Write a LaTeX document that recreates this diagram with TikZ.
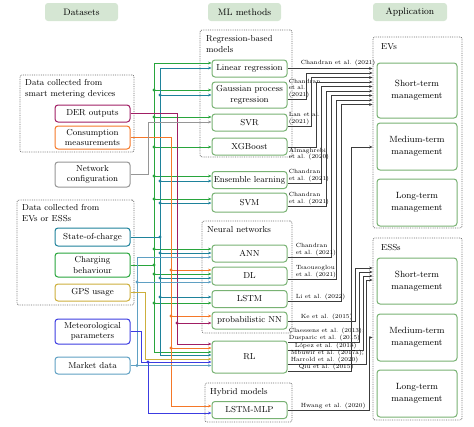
\documentclass[tikz,border=0pt]{standalone}
\usepackage{fontspec}
\usetikzlibrary{arrows.meta}
\definecolor{hdrfill}{RGB}{213,230,211}
\definecolor{boxgreen}{RGB}{120,178,115}
\definecolor{grpgray}{RGB}{110,110,110}
\definecolor{cM}{RGB}{160,30,100}
\definecolor{cO}{RGB}{245,120,40}
\definecolor{cGy}{RGB}{150,150,150}
\definecolor{cT}{RGB}{30,130,155}
\definecolor{cG}{RGB}{40,165,60}
\definecolor{cY}{RGB}{205,175,60}
\definecolor{cB}{RGB}{60,60,225}
\definecolor{cL}{RGB}{95,160,195}
\definecolor{outc}{RGB}{60,60,60}
\tikzset{
 hdr/.style={fill=hdrfill, rounded corners=3pt, minimum height=18pt, inner sep=0pt, font=\fontsize{9.3}{11}\selectfont},
 grp/.style={draw=grpgray, densely dotted, line width=0.8pt, rounded corners=2pt, inner sep=0pt},
 gtitle/.style={anchor=north west, align=left, inner sep=0pt, font=\fontsize{8.7}{11}\selectfont},
 mbox/.style={draw=boxgreen, fill=white, line width=1pt, rounded corners=3pt, minimum width=75pt, inner sep=0pt, align=center, font=\fontsize{8.7}{10.5}\selectfont},
 dbox/.style={mbox, draw=#1},
 abox/.style={mbox, minimum width=80pt, font=\fontsize{9}{12}\selectfont},
 cite/.style={anchor=south west, align=left, inner sep=0.6pt, font=\fontsize{6}{6.3}\selectfont},
 citeb/.style={cite, anchor=north west},
 inarr/.style={line width=0.85pt, draw=#1, -{Stealth[length=3.5pt,width=2.8pt]}},
 bus/.style={line width=0.85pt, draw=#1},
 outarr/.style={line width=0.85pt, draw=outc, -{Stealth[length=3.5pt,width=2.8pt]}},
}
\begin{document}
\begin{tikzpicture}[x=1pt,y=-1pt]
\useasboundingbox (0,0) rectangle (474,426);
% headers
\node[hdr, minimum width=73pt] (hds) at (81.5,12) {Datasets};
\node[hdr, minimum width=73pt] (hml) at (244.5,12) {ML methods};
\node[hdr, minimum width=74pt] (hap) at (410,12) {Application};
% datasets
\node[grp, minimum width=114pt, minimum height=77pt] (gsm) at (77,113.5) {};
\node[gtitle] (tsm) at (25,79) {Data collected from\\smart metering devices};
\node[dbox=cM, minimum height=17pt] (der) at (92.5,113.5) {DER outputs};
\node[dbox=cO, minimum height=23pt] (cons) at (92.5,137.5) {Consumption\\measurements};
\node[dbox=cGy, minimum height=25pt] (net) at (92.5,174.5) {Network\\configuration};
\node[grp, minimum width=117pt, minimum height=105pt] (gev) at (75.5,252.5) {};
\node[gtitle] (tev) at (22,204) {Data collected from\\EVs or ESSs};
\node[dbox=cT, minimum height=18pt] (soc) at (92.5,237) {State-of-charge};
\node[dbox=cG, minimum height=24pt] (cb) at (92.5,265) {Charging\\behaviour};
\node[dbox=cY, minimum height=17pt] (gps) at (92.5,292.5) {GPS usage};
\node[dbox=cB, minimum height=25pt] (met) at (92.5,331.5) {Meteorological\\parameters};
\node[dbox=cL, minimum height=17pt] (mkt) at (92.5,365.5) {Market data};
% methods
\node[grp, minimum width=92pt, minimum height=127pt] (greg) at (246,93.5) {};
\node[gtitle] (treg) at (206,35) {Regression-based\\models};
\node[mbox, minimum height=17pt] (lr) at (249.5,68.5) {Linear regression};
\node[mbox, minimum height=26pt] (gpr) at (249.5,95) {Gaussian process\\regression};
\node[mbox, minimum height=17pt] (svr) at (249.5,122.5) {SVR};
\node[mbox, minimum height=17pt] (xgb) at (249.5,146.5) {XGBoost};
\node[mbox, minimum height=17pt] (ens) at (249.5,180) {Ensemble learning};
\node[mbox, minimum height=19pt] (svm) at (249.5,202.5) {SVM};
\node[grp, minimum width=90pt, minimum height=112pt] (gnn) at (247,277) {};
\node[gtitle] (tnn) at (207,226) {Neural networks};
\node[mbox, minimum height=17pt] (ann) at (249.5,253.5) {ANN};
\node[mbox, minimum height=18pt] (dl) at (249.5,276) {DL};
\node[mbox, minimum height=17pt] (lstm) at (249.5,299) {LSTM};
\node[mbox, minimum height=17pt] (pnn) at (249.5,320.5) {probabilistic NN};
\node[mbox, minimum height=32pt] (rl) at (249.5,357) {RL};
\node[grp, minimum width=87pt, minimum height=39pt] (ghy) at (248.5,402.5) {};
\node[gtitle] (thy) at (210,388) {Hybrid models};
\node[mbox, minimum height=17pt] (mlp) at (249.5,410) {LSTM-MLP};
% applications
\node[grp, minimum width=89pt, minimum height=191pt] (gevs) at (417.5,132.5) {};
\node[gtitle] (tevs) at (381,43) {EVs};
\node[abox, minimum height=55pt] (evs) at (417,90.5) {Short-term\\management};
\node[abox, minimum height=47pt] (evm) at (417,146.5) {Medium-term\\management};
\node[abox, minimum height=47pt] (evl) at (417,202.5) {Long-term\\management};
\node[grp, minimum width=89pt, minimum height=182pt] (gess) at (417.5,329) {};
\node[gtitle] (tess) at (381,244) {ESSs};
\node[abox, minimum height=46pt] (ess) at (417,281) {Short-term\\management};
\node[abox, minimum height=47pt] (esm) at (417,337.5) {Medium-term\\management};
\node[abox, minimum height=47pt] (esl) at (417,393.5) {Long-term\\management};

% ---- dataset -> method connectors ----
% charging behaviour (green bus)
\draw[bus=cG] (cb.east) -- (cb.east -| 154,0);
\fill[cG] (cb.east -| 154,0) circle (1.7pt);
\draw[inarr=cG] (154,352) -- (154,63) -- (lr.west |- 0,63);
\draw[inarr=cG] (154,352) -- (rl.west |- 0,352);
\foreach \y/\n in {90/gpr,117/svr,147/xgb,176/ens,199/svm,249/ann,274/dl,303/lstm}{
  \draw[inarr=cG] (154,\y) -- (\n.west |- 0,\y);
  \fill[cG] (154,\y) circle (1.7pt);}
% state-of-charge (teal bus)
\draw[bus=cT] (soc.east) -- (soc.east -| 160,0);
\fill[cT] (soc.east -| 160,0) circle (1.7pt);
\draw[inarr=cT] (160,355) -- (160,68) -- (lr.west |- 0,68);
\draw[inarr=cT] (160,355) -- (rl.west |- 0,355);
\foreach \y/\n in {95/gpr,181/ens,203/svm,253/ann,278/dl,297/lstm}{
  \draw[inarr=cT] (160,\y) -- (\n.west |- 0,\y);
  \fill[cT] (160,\y) circle (1.7pt);}
% consumption (orange)
\draw[inarr=cO] (cons.east) -- (cons.east -| 171,0) -- (171,406) -- (mlp.west |- 0,406);
\foreach \y/\n in {270/dl,316/pnn,348/rl}{
  \draw[inarr=cO] (171,\y) -- (\n.west |- 0,\y);
  \fill[cO] (171,\y) circle (1.7pt);}
% DER outputs (magenta)
\draw[inarr=cM] (der.east) -- (der.east -| 177,0) -- (177,344) -- (rl.west |- 0,344);
\draw[inarr=cM] (177,323) -- (pnn.west |- 0,323);
\fill[cM] (177,323) circle (1.7pt);
% network configuration (gray)
\draw[inarr=cGy] (net.east) -- (net.east -| 148,0) -- (148,122) -- (svr.west |- 0,122);
% market data (light blue)
\draw[inarr=cL] (mkt.east) -- (rl.west |- 0,365.5);
\fill[cL] (137,365.5) circle (1.7pt);
\draw[inarr=cL] (137,365.5) -- (137,257) -- (ann.west |- 0,257);
\draw[inarr=cL] (137,282) -- (dl.west |- 0,282);
\fill[cL] (137,282) circle (1.7pt);
% GPS usage (yellow)
\draw[inarr=cY] (gps.east) -- (gps.east -| 145,0) -- (145,359) -- (rl.west |- 0,359);
% meteorological (blue)
\draw[inarr=cB] (met.east) -- (met.east -| 141,0) -- (141,362) -- (rl.west |- 0,362);
\fill[cB] (148,362) circle (1.7pt);
\draw[inarr=cB] (148,362) -- (148,413) -- (mlp.west |- 0,413);

% ---- method -> application connectors ----
\draw[outarr] (lr.east) -- (lr.east -| gevs.west);
\node[cite] (c1) at (300,67) {Chandran et al. (2021)};
\draw[outarr] (gpr.east |- 0,99) -| (306,73) -- (gevs.west |- 0,73);
\node[cite] (c2) at (288,98.5) {Chandran\\et al.\\(2021)};
\draw[outarr] (svr.east |- 0,126) -| (311,77.5) -- (gevs.west |- 0,77.5);
\node[cite] (c3) at (288,125.5) {Lan et al.\\(2021)};
\draw[outarr] (xgb.east |- 0,147) -| (316,82) -- (gevs.west |- 0,82);
\node[citeb] (c4) at (288,147.5) {Almaghrebi\\et al. (2020)};
\draw[outarr] (ens.east |- 0,183) -| (321,86.5) -- (gevs.west |- 0,86.5);
\node[cite] (c5) at (288,182.5) {Chandran\\et al. (2021)};
\draw[outarr] (svm.east |- 0,206) -| (326,91) -- (gevs.west |- 0,91);
\node[cite] (c6) at (288,205.5) {Chandran\\et al. (2021)};
\draw[outarr] (ann.east |- 0,257) -| (331,95.5) -- (gevs.west |- 0,95.5);
\node[cite] (c7) at (295,256.5) {Chandran\\et al. (2021)};
\draw[outarr] (dl.east |- 0,279) -| (336,100) -- (gevs.west |- 0,100);
\node[cite] (c8) at (295,278.5) {Tsaousoglou\\et al. (2021)};
\draw[outarr] (lstm.east |- 0,301) -| (341,104.5) -- (gevs.west |- 0,104.5);
\node[cite] (c9) at (295,300.5) {Li et al. (2022)};
\draw[outarr] (pnn.east |- 0,321) -| (355,268) -- (gess.west |- 0,268);
\node[cite] (c10) at (300,320.5) {Ke et al. (2015)};
\draw[outarr] (rl.east |- 0,342) -| (359,272) -- (gess.west |- 0,272);
\node[cite] (c11) at (288,341.5) {Claessens et al. (2013);\\Dusparic et al. (2015)};
\draw[outarr] (rl.east |- 0,350.5) -| (363,276) -- (gess.west |- 0,276);
\node[cite] (c12) at (294,350) {López et al. (2018)};
\draw[outarr] (rl.east |- 0,364) -| (366,280) -- (gess.west |- 0,280);
\node[cite] (c13) at (290,363.5) {Mbuwir et al. (2017a);\\Harrold et al. (2020)};
\draw[outarr] (rl.east |- 0,371.5) -| (351,147) -- (gevs.west |- 0,147);
\node[cite] (c14) at (298,371) {Qiu et al. (2015)};
\draw[outarr] (mlp.east |- 0,410) -| (369,337.5) -- (gess.west |- 0,337.5);
\node[cite] (c15) at (300,409.5) {Hwang et al. (2020)};
\end{tikzpicture}
\end{document}
